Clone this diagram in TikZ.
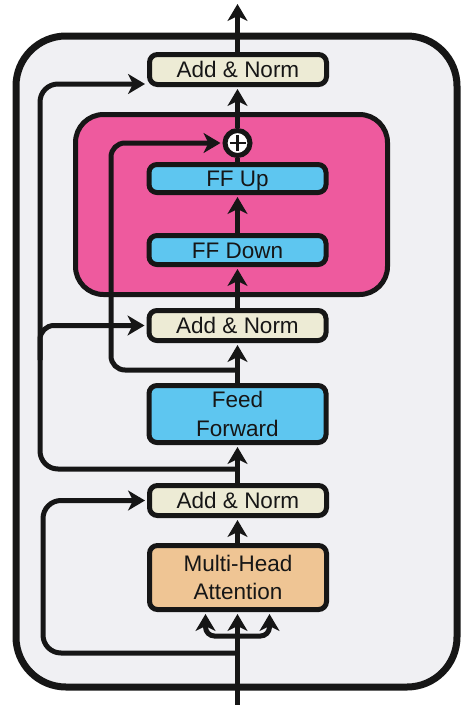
\documentclass[tikz,border=0pt]{standalone}
\usepackage{fontspec}
\setmainfont{Liberation Sans}
\usetikzlibrary{arrows.meta}
\definecolor{bgc}{HTML}{F0F0F3}
\definecolor{pinkc}{HTML}{EE5A9E}
\definecolor{bluec}{HTML}{5EC6F0}
\definecolor{beigec}{HTML}{EDEBD5}
\definecolor{orangec}{HTML}{EFC594}
\definecolor{inkc}{HTML}{161616}
\begin{document}
\begin{tikzpicture}[x=1pt,y=-1pt,
  blk/.style={draw=inkc, line width=5pt, rounded corners=8pt, minimum width=177pt,
    inner sep=0pt, align=center, font=\fontsize{22.5}{28.5}\selectfont, text=inkc},
  oneline/.style={blk, text height=16pt, text depth=0pt},
  anbox/.style={oneline, fill=beigec, minimum height=30pt},
  ffbox/.style={oneline, fill=bluec},
  con/.style={draw=inkc, line width=5pt},
  arr/.style={con, -{Stealth[length=17pt,width=20pt,inset=5pt]}, shorten >=2pt},
  plusnode/.style={circle, draw=inkc, fill=white, line width=5pt, minimum size=25pt, inner sep=0pt,
    path picture={\draw[inkc, line width=2.8pt] ([xshift=-8pt]path picture bounding box.center) -- ([xshift=8pt]path picture bounding box.center)
      ([yshift=-8pt]path picture bounding box.center) -- ([yshift=8pt]path picture bounding box.center);}}
]
\useasboundingbox (0,0) rectangle (474,705);
% outer block
\node[draw=inkc, fill=bgc, line width=7pt, rounded corners=50pt, minimum width=441pt, minimum height=651pt, inner sep=0pt] (outer) at (236.5,361.5) {};
% pink MoE block
\node[draw=inkc, fill=pinkc, line width=5pt, rounded corners=28pt, minimum width=312pt, minimum height=180pt, inner sep=0pt] (moe) at (231.5,204.5) {};
% boxes
\node[anbox] (topAN) at (238,69.5) {Add \& Norm};
\node[plusnode] (plus) at (237.5,143) {};
\node[ffbox, minimum height=28pt] (ffup) at (237.5,178.5) {FF Up};
\node[ffbox, minimum height=29pt] (ffdown) at (237.5,250) {FF Down};
\node[anbox] (midAN) at (237.5,325.5) {Add \& Norm};
\node[blk, fill=bluec, minimum height=57pt] (ff) at (237.5,414) {Feed\\Forward};
\node[anbox] (botAN) at (238,500.5) {Add \& Norm};
\node[blk, fill=orangec, minimum height=64pt] (mha) at (238,577.5) {Multi-Head\\Attention};
% coordinates
\coordinate (in) at (237.5,705);
\coordinate (out) at (237.5,2);
\coordinate (fork) at (237.5,636);
\coordinate (r1) at (237.5,653);
\coordinate (r2) at (237.5,469);
\coordinate (r3) at (237.5,370);
\coordinate (L1) at (43,0);
\coordinate (L2) at (40,0);
\coordinate (L3) at (111,0);
\coordinate (topin) at ([yshift=-14.5pt]topAN.west);
\coordinate (midstart) at (40,360);
% main path
\draw[arr] (in) -- (in |- mha.south);
\draw[arr, rounded corners=9pt] (fork) -| ([xshift=-32pt]in |- mha.south);
\draw[arr, rounded corners=9pt] (fork) -| ([xshift=32pt]in |- mha.south);
\draw[arr] (in |- mha.north) -- (in |- botAN.south);
\draw[arr] (in |- botAN.north) -- (in |- ff.south);
\draw[arr] (in |- ff.north) -- (in |- midAN.south);
\draw[arr] (in |- midAN.north) -- (in |- ffdown.south);
\draw[arr] (in |- ffdown.north) -- (in |- ffup.south);
\draw[con] (in |- ffup.north) -- (plus.south);
\draw[arr] (plus.north) -- (in |- topAN.south);
\draw[arr] (in |- topAN.north) -- (out);
% residual connections
\draw[arr, rounded corners=18pt] (r1) -| (L1 |- botAN.west) -- (botAN.west);
\draw[arr, rounded corners=18pt] (r2) -| (L2 |- topin) -- (topin);
\draw[arr, rounded corners=14pt] (midstart) |- (midAN.west);
\draw[arr, rounded corners=14pt] (r3) -| (L3 |- plus.west) -- (plus.west);
\end{tikzpicture}
\end{document}
